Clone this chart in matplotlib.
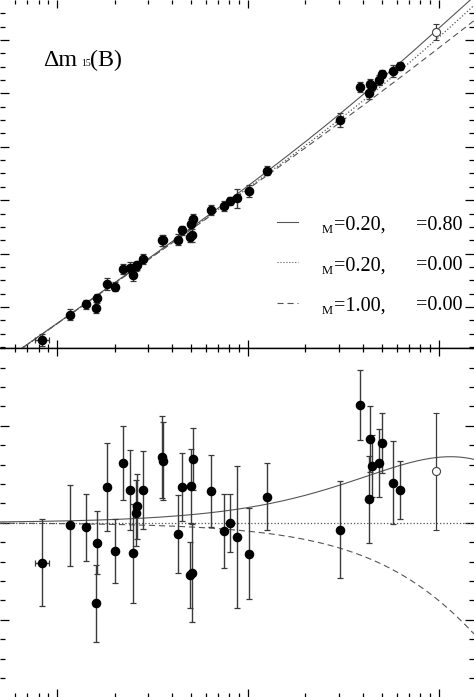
import numpy as np
import matplotlib
matplotlib.use("Agg")
import matplotlib.pyplot as plt
from matplotlib.ticker import LogLocator, MultipleLocator, NullFormatter

# ---------------- data ----------------
z_sn = [0.00832, 0.01170, 0.01414, 0.01620, 0.01594, 0.01821, 0.02012, 0.02208,
        0.02420, 0.02490, 0.02623, 0.02602, 0.02810, 0.03558, 0.03601, 0.04315,
        0.04529, 0.05030, 0.05170, 0.04952, 0.05072, 0.06426, 0.07515, 0.08049,
        0.08707, 0.1016, 0.1253, 0.3032, 0.3845, 0.4352, 0.4300, 0.4442,
        0.4833, 0.5047, 0.5743, 0.6271]
dmu_sn = [-0.205, -0.014, -0.023, -0.102, -0.415, 0.182, -0.145, 0.306,
          0.169, -0.157, 0.084, 0.052, 0.169, 0.339, 0.318, -0.057,
          0.182, 0.191, 0.329, -0.269, -0.260, 0.162, -0.041, -0.002,
          -0.074, -0.159, 0.134, -0.036, 0.608, 0.430, 0.120, 0.293,
          0.308, 0.411, 0.207, 0.169]
err_sn = [0.225, 0.207, 0.172, 0.164, 0.198, 0.227, 0.164, 0.191,
          0.204, 0.255, 0.166, 0.170, 0.200, 0.211, 0.203, 0.200,
          0.175, 0.190, 0.160, 0.168, 0.252, 0.185, 0.190, 0.151,
          0.366, 0.233, 0.172, 0.251, 0.180, 0.170, 0.225, 0.160,
          0.173, 0.155, 0.215, 0.148]
# horizontal error (first SN only)
z_xerr_pt = [0.00832]
dmu_xerr_pt = [-0.205]
xerr_lo = [0.00067]
xerr_hi = [0.00073]

# open symbol (SN 1997ck)
z_open = [0.97]
dmu_open = [0.265]
err_open = [0.301]

# cosmological models: (Omega_M, Omega_Lambda, linestyle)
om_models = [0.20, 0.20, 1.00]
ol_models = [0.80, 0.00, 0.00]
ls_models = ['-', ':', (0, (5.5, 3.5))]
H0 = 63.7
om_ref, ol_ref = 0.20, 0.00

legend_om = ['0.20,', '0.20,', '1.00,']
legend_ol = ['0.80', '0.00', '0.00']

C_KMS = 299792.458


def dist_mod(z, om, ol, h0=H0):
    z = np.atleast_1d(np.asarray(z, dtype=float))
    ok = 1.0 - om - ol
    zg = np.linspace(0.0, max(z.max(), 1e-3) * 1.001, 40001)
    E = np.sqrt(om * (1 + zg) ** 3 + ok * (1 + zg) ** 2 + ol)
    f = 1.0 / E
    chi = np.concatenate([[0.0], np.cumsum(0.5 * (f[1:] + f[:-1]) * np.diff(zg))])
    chi_z = np.interp(z, zg, chi)
    if ok > 1e-9:
        s = np.sinh(np.sqrt(ok) * chi_z) / np.sqrt(ok)
    elif ok < -1e-9:
        s = np.sin(np.sqrt(-ok) * chi_z) / np.sqrt(-ok)
    else:
        s = chi_z
    dl = C_KMS / h0 * (1 + z) * s
    return 5 * np.log10(dl) + 25


plt.rcParams['font.family'] = ['Liberation Serif', 'DejaVu Serif']

W, Hh = 474, 697
fig = plt.figure(figsize=(W / 100, Hh / 100), dpi=100)
split = 348.0
ax1 = fig.add_axes([0, (Hh - split) / Hh, 1, split / Hh])
ax2 = fig.add_axes([0, 0, 1, (Hh - split) / Hh])

line_col = '#555555'
err_col = '#3a3a3a'

zc = np.geomspace(0.0045, 1.7, 600)
mu_ref_c = dist_mod(zc, om_ref, ol_ref)
for om, ol, ls in zip(om_models, ol_models, ls_models):
    mu_c = dist_mod(zc, om, ol)
    lw = 0.8 if ls != ':' else 0.9
    ax1.plot(zc, mu_c, color=line_col, lw=lw, ls=ls)
    ax2.plot(zc, mu_c - mu_ref_c, color=line_col, lw=lw, ls=ls)

z_arr = np.array(z_sn)
mu_sn = dist_mod(z_arr, om_ref, ol_ref) + np.array(dmu_sn)
mu_open = dist_mod(np.array(z_open), om_ref, ol_ref) + np.array(dmu_open)
mu_xpt = dist_mod(np.array(z_xerr_pt), om_ref, ol_ref) + np.array(dmu_xerr_pt)

ekw = dict(fmt='o', ms=5.9, mfc='black', mec='black', ecolor=err_col,
           elinewidth=1.0, capsize=2.4, capthick=0.9, zorder=3)
for ax, yy, yx, yo in [(ax1, mu_sn, mu_xpt, mu_open),
                       (ax2, np.array(dmu_sn), np.array(dmu_xerr_pt), np.array(dmu_open))]:
    ax.errorbar(z_sn, yy, yerr=err_sn, **ekw)
    ax.errorbar(z_xerr_pt, yx, xerr=[xerr_lo, xerr_hi], fmt='none', ecolor=err_col,
                elinewidth=1.0, capsize=2.4, capthick=0.9, zorder=3)
    ax.errorbar(z_open, yo, yerr=err_open, fmt='o', ms=5.8, mfc='white', mec='#444444',
                mew=0.8, ecolor=err_col, elinewidth=0.9, capsize=2.4, capthick=0.9, zorder=3)

for ax in (ax1, ax2):
    ax.set_xscale('log')
    ax.set_xlim(0.005029, 1.525)
    ax.xaxis.set_major_locator(LogLocator(base=10, numticks=10))
    ax.xaxis.set_minor_locator(LogLocator(base=10, subs=np.arange(2, 10), numticks=20))
    ax.xaxis.set_major_formatter(NullFormatter())
    ax.xaxis.set_minor_formatter(NullFormatter())
    ax.tick_params(which='both', direction='in', top=True, bottom=True, left=True, right=True,
                   labelbottom=False, labelleft=False, labeltop=False, labelright=False,
                   colors='black', width=0.9)
    ax.tick_params(axis='x', which='major', length=5.5)
    ax.tick_params(axis='x', which='minor', length=3.0)
    ax.tick_params(axis='y', which='major', length=6.8)
    ax.tick_params(axis='y', which='minor', length=3.4)
    ax.set_facecolor('white')

ax1.set_ylim(32.464, 45.498)
ax1.yaxis.set_major_locator(MultipleLocator(2))
ax1.yaxis.set_minor_locator(MultipleLocator(0.5))
ax2.set_ylim(-0.898, 0.9005)
ax2.yaxis.set_major_locator(MultipleLocator(0.5))
ax2.yaxis.set_minor_locator(MultipleLocator(0.1))

for s in ('left', 'right', 'top'):
    ax1.spines[s].set_visible(False)
for s in ('left', 'right', 'bottom'):
    ax2.spines[s].set_visible(False)
ax1.spines['bottom'].set_linewidth(1.0)
ax2.spines['top'].set_linewidth(1.0)

# panel label
ax1.text(43 / W, 1 - 66 / split, 'Δm', transform=ax1.transAxes, fontsize=17.3,
         ha='left', va='baseline')
ax1.text(81 / W, 1 - 66.5 / split, '15', transform=ax1.transAxes, fontsize=7,
         ha='left', va='baseline')
ax1.text(90 / W, 1 - 66 / split, '(B)', transform=ax1.transAxes, fontsize=17.3,
         ha='left', va='baseline')

# legend
row_y = [221.7, 262.3, 302.7]
for ry, ls, om_t, ol_t in zip(row_y, ls_models, legend_om, legend_ol):
    yf = 1 - ry / split
    ax1.plot([277 / W, 298 / W], [yf, yf], transform=ax1.transAxes, color=line_col,
             lw=0.8, ls=ls)
    ax1.text(322 / W, 1 - (ry + 11.5) / split, 'M', transform=ax1.transAxes, fontsize=9,
             ha='left', va='baseline')
    ax1.text(334 / W, 1 - (ry + 7.8) / split, '=' + om_t, transform=ax1.transAxes,
             fontsize=14.5, ha='left', va='baseline')
    ax1.text(462.5 / W, 1 - (ry + 7.8) / split, '=' + ol_t, transform=ax1.transAxes,
             fontsize=14.5, ha='right', va='baseline')

fig.savefig('out.png', dpi=100, facecolor='white')
